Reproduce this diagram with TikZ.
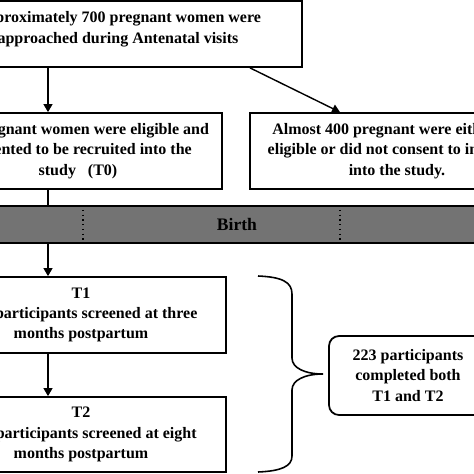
\documentclass[tikz,border=0pt]{standalone}
\usepackage{fontspec}
\setmainfont{Liberation Serif}
\usetikzlibrary{arrows.meta}
\newdimen\pxu
\pxu=0.02cm

\begin{document}
\begin{tikzpicture}[
        x=0.02cm,
        y=-0.02cm,
        every node/.style={font=\fontsize{9.1}{11.6}\selectfont\bfseries, align=center},
        stagebox/.style={draw, line width=1pt, inner sep=0pt},
        roundbox/.style={draw, line width=1pt, inner sep=0pt, rounded corners=10\pxu},
        flow/.style={line width=0.8pt, -{Triangle[length=4.5pt, width=5pt]}}
    ]
        \useasboundingbox (0,0) rectangle (474,474);

        % Recruitment
        \node[stagebox, minimum width=368\pxu, minimum height=66\pxu] (visit) at (118,34)
            {Approximately 700 pregnant women were\\approached during Antenatal visits\rule[-13\pxu]{0pt}{0pt}};
        \node[stagebox, minimum width=288\pxu, minimum height=76\pxu] (eligible) at (78,151)
            {\hspace*{1.75em}pregnant women were eligible and\\consented to be recruited into the\\study\ \ \ (T0)};
        \node[stagebox, minimum width=294\pxu, minimum height=76\pxu] (declined) at (397,151)
            {Almost 400 pregnant were either not\\eligible or did not consent to inclusion\\into the study.};

        % Follow-up
        \node[stagebox, minimum width=290\pxu, minimum height=76\pxu] (tone) at (81,315)
            {\fontsize{9.1}{10.7}\selectfont T1\\\hspace*{1.9em}participants screened at three\\months postpartum};
        \node[stagebox, minimum width=290\pxu, minimum height=75\pxu] (ttwo) at (81,434.5)
            {\fontsize{9.1}{10.7}\selectfont T2\\\hspace*{1.9em}participants screened at eight\\months postpartum};
        \node[roundbox, minimum width=158\pxu, minimum height=79\pxu] (both) at (408,375.5)
            {\fontsize{9.1}{10.5}\selectfont 223 participants\\completed both\\T1 and T2};

        % Arrows
        \coordinate (spine) at (48,0);
        \coordinate (split) at (250,0);
        \coordinate (splitend) at (340,0);
        \draw[flow] (visit.south -| spine) -- (eligible.north -| spine);
        \draw[flow] (visit.south -| split) -- (declined.north -| splitend);
        \draw[flow] (eligible.south -| spine) -- (tone.north -| spine);
        \draw[flow] (tone.south -| spine) -- (ttwo.north -| spine);

        % Birth band
        \node[draw, line width=0.9pt, fill=black!55, minimum width=500\pxu, minimum height=37\pxu,
            inner sep=0pt, font=\fontsize{10}{12}\selectfont\bfseries] (birth) at (237,224.5) {Birth};
        \draw[dotted, line width=0.7pt] (birth.north -| 83,0) -- (birth.south -| 83,0);
        \draw[dotted, line width=0.7pt] (birth.north -| 340,0) -- (birth.south -| 340,0);

        % Brace
        \coordinate (bracetop) at (258,276);
        \coordinate (bracetip) at (323,374);
        \coordinate (bracebot) at (258,472);
        \draw[line width=0.9pt] (bracetop) .. controls (282,277) and (292,282) .. (292,294)
            -- (292,358) .. controls (292,368) and (305,374) .. (bracetip)
            .. controls (305,374) and (292,380) .. (292,390)
            -- (292,456) .. controls (292,466) and (282,471) .. (bracebot);
    \end{tikzpicture}
\end{document}
